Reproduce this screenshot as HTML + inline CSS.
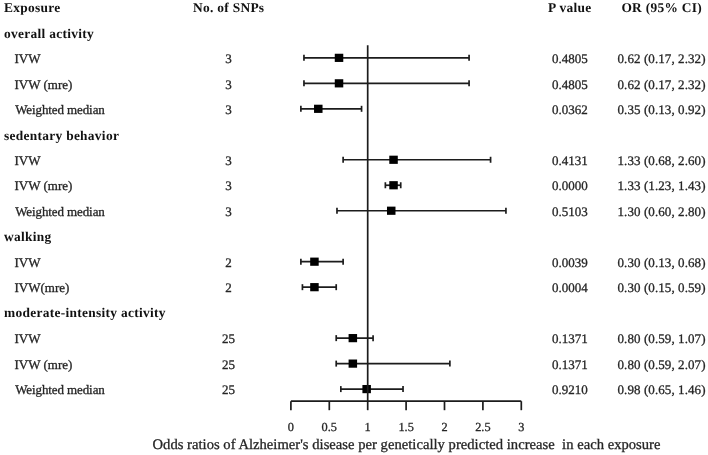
<!DOCTYPE html><html><head><meta charset="utf-8"><style>html,body{margin:0;padding:0;background:#fff;}svg{display:block}text{font-family:"Liberation Serif","Times New Roman",serif;fill:#262626;text-rendering:geometricPrecision;stroke:#262626;stroke-width:0.3px}.b{font-weight:bold;font-size:13.4px;fill:#111;stroke:none;letter-spacing:0.3px}.n{font-size:13px}.t{font-size:12.3px}.a{font-size:14.6px}</style></head><body>
<svg width="708" height="455" viewBox="0 0 708 455">
<text class="b" x="4" y="12.2">Exposure</text>
<text class="b" x="193" y="12.2">No. of SNPs</text>
<text class="b" x="548" y="12.2">P value</text>
<text class="b" x="621.4" y="12.2">OR (95% CI)</text>
<text class="b" x="4" y="37.9">overall activity</text>
<text class="b" x="4" y="139.5">sedentary behavior</text>
<text class="b" x="4" y="241.3">walking</text>
<text class="b" x="4" y="317.3">moderate-intensity activity</text>
<text class="n" x="14.5" y="63.1">IVW</text>
<text class="n" x="228.5" y="63.1" text-anchor="middle">3</text>
<text class="n" x="552" y="63.1">0.4805</text>
<text class="n" x="617.5" y="63.1" textLength="88">0.62 (0.17, 2.32)</text>
<text class="n" x="14.5" y="88.5">IVW (mre)</text>
<text class="n" x="228.5" y="88.5" text-anchor="middle">3</text>
<text class="n" x="552" y="88.5">0.4805</text>
<text class="n" x="617.5" y="88.5" textLength="88">0.62 (0.17, 2.32)</text>
<text class="n" x="15.2" y="114.0" textLength="89.6">Weighted median</text>
<text class="n" x="228.5" y="114.0" text-anchor="middle">3</text>
<text class="n" x="552" y="114.0">0.0362</text>
<text class="n" x="617.5" y="114.0" textLength="88">0.35 (0.13, 0.92)</text>
<text class="n" x="14.5" y="165.0">IVW</text>
<text class="n" x="228.5" y="165.0" text-anchor="middle">3</text>
<text class="n" x="552" y="165.0">0.4131</text>
<text class="n" x="617.5" y="165.0" textLength="88">1.33 (0.68, 2.60)</text>
<text class="n" x="14.5" y="190.4">IVW (mre)</text>
<text class="n" x="228.5" y="190.4" text-anchor="middle">3</text>
<text class="n" x="552" y="190.4">0.0000</text>
<text class="n" x="617.5" y="190.4" textLength="88">1.33 (1.23, 1.43)</text>
<text class="n" x="15.2" y="215.9" textLength="89.6">Weighted median</text>
<text class="n" x="228.5" y="215.9" text-anchor="middle">3</text>
<text class="n" x="552" y="215.9">0.5103</text>
<text class="n" x="617.5" y="215.9" textLength="88">1.30 (0.60, 2.80)</text>
<text class="n" x="14.5" y="266.9">IVW</text>
<text class="n" x="228.5" y="266.9" text-anchor="middle">2</text>
<text class="n" x="552" y="266.9">0.0039</text>
<text class="n" x="617.5" y="266.9" textLength="88">0.30 (0.13, 0.68)</text>
<text class="n" x="14.5" y="292.4">IVW(mre)</text>
<text class="n" x="228.5" y="292.4" text-anchor="middle">2</text>
<text class="n" x="552" y="292.4">0.0004</text>
<text class="n" x="617.5" y="292.4" textLength="88">0.30 (0.15, 0.59)</text>
<text class="n" x="14.5" y="343.3">IVW</text>
<text class="n" x="228.5" y="343.3" text-anchor="middle">25</text>
<text class="n" x="552" y="343.3">0.1371</text>
<text class="n" x="617.5" y="343.3" textLength="88">0.80 (0.59, 1.07)</text>
<text class="n" x="14.5" y="368.8">IVW (mre)</text>
<text class="n" x="228.5" y="368.8" text-anchor="middle">25</text>
<text class="n" x="552" y="368.8">0.1371</text>
<text class="n" x="617.5" y="368.8" textLength="88">0.80 (0.59, 2.07)</text>
<text class="n" x="15.2" y="394.3" textLength="89.6">Weighted median</text>
<text class="n" x="228.5" y="394.3" text-anchor="middle">25</text>
<text class="n" x="552" y="394.3">0.9210</text>
<text class="n" x="617.5" y="394.3" textLength="88">0.98 (0.65, 1.46)</text>
<text class="t" x="290.90" y="430.8" text-anchor="middle">0</text>
<text class="t" x="329.30" y="430.8" text-anchor="middle">0.5</text>
<text class="t" x="367.70" y="430.8" text-anchor="middle">1</text>
<text class="t" x="406.10" y="430.8" text-anchor="middle">1.5</text>
<text class="t" x="444.50" y="430.8" text-anchor="middle">2</text>
<text class="t" x="482.90" y="430.8" text-anchor="middle">2.5</text>
<text class="t" x="521.30" y="430.8" text-anchor="middle">3</text>
<g stroke="#1c1c1c" stroke-width="1.7" stroke-linecap="butt"><line x1="303.96" y1="57.85" x2="469.08" y2="57.85"/><line x1="303.96" y1="54.85" x2="303.96" y2="60.85"/><line x1="469.08" y1="54.85" x2="469.08" y2="60.85"/><rect x="334.77" y="53.75" width="8.5" height="8.2" stroke="none" fill="#000"/><line x1="303.96" y1="83.33" x2="469.08" y2="83.33"/><line x1="303.96" y1="80.33" x2="303.96" y2="86.33"/><line x1="469.08" y1="80.33" x2="469.08" y2="86.33"/><rect x="334.77" y="79.23" width="8.5" height="8.2" stroke="none" fill="#000"/><line x1="300.88" y1="108.81" x2="361.56" y2="108.81"/><line x1="300.88" y1="105.81" x2="300.88" y2="111.81"/><line x1="361.56" y1="105.81" x2="361.56" y2="111.81"/><rect x="314.03" y="104.71" width="8.5" height="8.2" stroke="none" fill="#000"/><line x1="343.12" y1="159.77" x2="490.58" y2="159.77"/><line x1="343.12" y1="156.77" x2="343.12" y2="162.77"/><line x1="490.58" y1="156.77" x2="490.58" y2="162.77"/><rect x="389.29" y="155.67" width="8.5" height="8.2" stroke="none" fill="#000"/><line x1="385.36" y1="185.25" x2="400.72" y2="185.25"/><line x1="385.36" y1="182.25" x2="385.36" y2="188.25"/><line x1="400.72" y1="182.25" x2="400.72" y2="188.25"/><rect x="389.29" y="181.15" width="8.5" height="8.2" stroke="none" fill="#000"/><line x1="336.98" y1="210.73" x2="505.94" y2="210.73"/><line x1="336.98" y1="207.73" x2="336.98" y2="213.73"/><line x1="505.94" y1="207.73" x2="505.94" y2="213.73"/><rect x="386.99" y="206.63" width="8.5" height="8.2" stroke="none" fill="#000"/><line x1="300.88" y1="261.69" x2="343.12" y2="261.69"/><line x1="300.88" y1="258.69" x2="300.88" y2="264.69"/><line x1="343.12" y1="258.69" x2="343.12" y2="264.69"/><rect x="310.19" y="257.59" width="8.5" height="8.2" stroke="none" fill="#000"/><line x1="302.42" y1="287.17" x2="336.21" y2="287.17"/><line x1="302.42" y1="284.17" x2="302.42" y2="290.17"/><line x1="336.21" y1="284.17" x2="336.21" y2="290.17"/><rect x="310.19" y="283.07" width="8.5" height="8.2" stroke="none" fill="#000"/><line x1="336.21" y1="338.13" x2="373.08" y2="338.13"/><line x1="336.21" y1="335.13" x2="336.21" y2="341.13"/><line x1="373.08" y1="335.13" x2="373.08" y2="341.13"/><rect x="348.59" y="334.03" width="8.5" height="8.2" stroke="none" fill="#000"/><line x1="336.21" y1="363.61" x2="449.88" y2="363.61"/><line x1="336.21" y1="360.61" x2="336.21" y2="366.61"/><line x1="449.88" y1="360.61" x2="449.88" y2="366.61"/><rect x="348.59" y="359.51" width="8.5" height="8.2" stroke="none" fill="#000"/><line x1="340.82" y1="389.09" x2="403.03" y2="389.09"/><line x1="340.82" y1="386.09" x2="340.82" y2="392.09"/><line x1="403.03" y1="386.09" x2="403.03" y2="392.09"/><rect x="362.41" y="384.99" width="8.5" height="8.2" stroke="none" fill="#000"/><line x1="367.70" y1="45.2" x2="367.70" y2="401.2"/><line x1="290.90" y1="401.2" x2="521.30" y2="401.2"/><line x1="290.90" y1="401.2" x2="290.90" y2="410.2"/><line x1="329.30" y1="401.2" x2="329.30" y2="410.2"/><line x1="367.70" y1="401.2" x2="367.70" y2="410.2"/><line x1="406.10" y1="401.2" x2="406.10" y2="410.2"/><line x1="444.50" y1="401.2" x2="444.50" y2="410.2"/><line x1="482.90" y1="401.2" x2="482.90" y2="410.2"/><line x1="521.30" y1="401.2" x2="521.30" y2="410.2"/></g>
<text class="a" x="152.5" y="448.6" xml:space="preserve" textLength="508">Odds ratios of Alzheimer's disease per genetically predicted increase  in each exposure</text>
</svg></body></html>
